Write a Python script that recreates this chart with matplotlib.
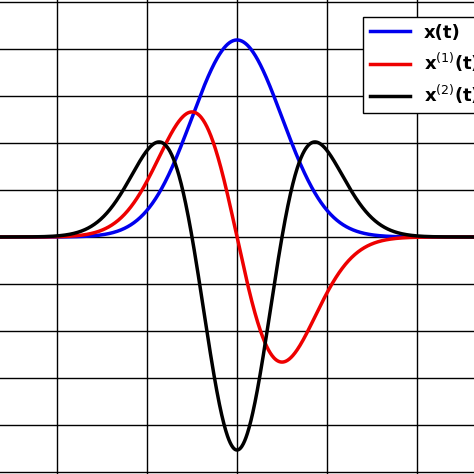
import numpy as np
import matplotlib
matplotlib.use("Agg")
import matplotlib.pyplot as plt

# values
sigma = 0.5
amp_x = 4.19        # peak of x(t)
amp_d1 = 2.66       # peak of x'(t)
amp_d2 = 4.53       # depth of x''(t) at t=0
labels = ["x(t)", "x$^{(1)}$(t)", "x$^{(2)}$(t)"]
colors = ["#0000ee", "#ee0000", "#000000"]

t = np.linspace(-3, 3, 1201)
g = np.exp(-t**2 / (2 * sigma**2))
x0 = amp_x * g
x1 = -amp_d1 * (t / sigma) * np.exp(0.5) * g
x2 = amp_d2 * ((t / sigma)**2 - 1) * g

fig = plt.figure(figsize=(4.74, 4.74), dpi=100)
ax = fig.add_axes([0, 0, 1, 1])
for y, lab, c in zip([x0, x1, x2], labels, colors):
    ax.plot(t, y, color=c, lw=2.5, label=lab)
ax.set_xlim(-2.633, 2.633)
ax.set_ylim(-5.04, 5.04)
ax.set_xticks(np.arange(-2, 2.01, 1))
ax.set_yticks(np.arange(-5, 5.01, 1))
ax.tick_params(length=0, labelleft=False, labelbottom=False)
ax.grid(True, color="black", lw=1)
for s in ax.spines.values():
    s.set_visible(False)
leg = ax.legend(loc="upper left", bbox_to_anchor=(0.765, 0.965), fancybox=False,
                edgecolor="black", framealpha=1, handlelength=2.2,
                prop={"weight": "bold", "size": 13}, borderaxespad=0)
leg.get_frame().set_linewidth(1)
fig.savefig("out.png", dpi=100)
